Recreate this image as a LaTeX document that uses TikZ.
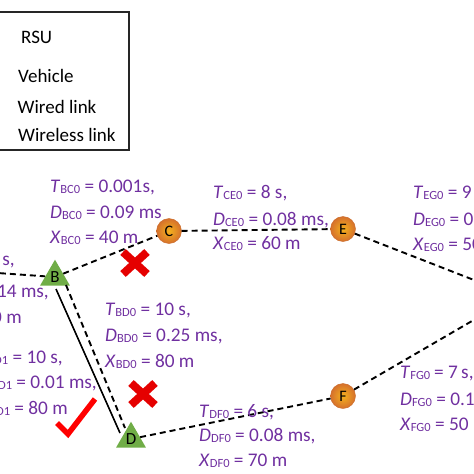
\documentclass[tikz,border=0pt]{standalone}
\usepackage{fontspec}
\setmainfont{Carlito}
\usetikzlibrary{shapes.geometric,calc}
\definecolor{lblpurple}{HTML}{7030A0}
\definecolor{vehorange}{HTML}{ED7D31}
\definecolor{rsugreen}{HTML}{70AD47}
\newcommand{\qlab}[2]{\textit{#1}\raisebox{-1.5pt}{\fontsize{12.5}{12.5}\selectfont #2}}
\tikzset{
  lbl/.style={text=lblpurple, font=\fontsize{19.3}{22}\selectfont, inner sep=0pt, anchor=base west},
  lble/.style={lbl, anchor=base east},
  legtxt/.style={font=\fontsize{19}{22}\selectfont, inner sep=0pt, anchor=base west},
  veh/.style={circle, minimum size=25pt, inner sep=0pt, shading=radial, inner color=vehorange!60!yellow, outer color=vehorange!90!black, draw=vehorange!85!black, line width=0.4pt, font=\fontsize{16}{16}\selectfont},
  rsu/.style={regular polygon, regular polygon sides=3, minimum size=34.6pt, inner sep=0pt, fill=rsugreen, font=\fontsize{17}{17}\selectfont},
  wless/.style={dash pattern=on 6pt off 4pt, line width=1.9pt, black},
  wired/.style={line width=1.6pt, black},
  xmark/.style={line width=8pt, red!90!black},
  okmark/.style={line width=5.5pt, red, line join=miter},
}
\begin{document}
\begin{tikzpicture}[x=1pt,y=-1pt]
\useasboundingbox (0,0) rectangle (474,474);
\clip (0,0) rectangle (474,474);
% legend
\draw[line width=1.2pt, black!85] (-10,12) rectangle (129,150);
\node[legtxt] (l1) at (21,43) {RSU};
\node[legtxt] (l2) at (18,82) {Vehicle};
\node[legtxt] (l3) at (17.5,113) {Wired link};
\node[legtxt] (l4) at (18,141) {Wireless link};
% nodes
\coordinate (A) at (-60,269);
\coordinate (G) at (515,296);
\node[rsu] (B) at (55,277) {B};
\node[rsu] (D) at (131,439) {D};
\node[veh] (C) at (169,231) {C};
\node[veh] (E) at (343,229) {E};
\node[veh] (F) at (343,396) {F};
% links
\draw[wless] (A) -- (B);
\draw[wless] (B) -- (C);
\draw[wless] (C) -- (E);
\draw[wless] (E) -- (G);
\draw[wless] (F) -- (G);
\draw[wless] (D) -- (F);
\draw[wired] ($(B)+(1,12)$) -- ($(D)+(-11,-6)$);
\draw[wless] ($(B)+(11,8)$) -- ($(D)+(-6,-11)$);
% marks
\coordinate (x1) at (135,263);
\coordinate (x2) at (143,394);
\draw[xmark] ($(x1)+(-12,-11)$) -- ($(x1)+(12,11)$);
\draw[xmark] ($(x1)+(-12,11)$) -- ($(x1)+(12,-11)$);
\draw[xmark] ($(x2)+(-12,-11)$) -- ($(x2)+(12,11)$);
\draw[xmark] ($(x2)+(-12,11)$) -- ($(x2)+(12,-11)$);
\coordinate (k1) at (57,423);
\coordinate (k2) at (68,434);
\coordinate (k3) at (95,399);
\draw[okmark] (k1) -- (k2) -- (k3);
% labels BC0
\node[lbl] (bc1) at (50,192) {\qlab{T}{BC0} = 0.001s,};
\node[lbl] (bc2) at (50,218) {\qlab{D}{BC0} = 0.09 ms};
\node[lbl] (bc3) at (50,243) {\qlab{X}{BC0} = 40 m};
% CE0
\node[lbl] (ce1) at (213,198) {\qlab{T}{CE0} = 8 s,};
\node[lbl] (ce2) at (213,225) {\qlab{D}{CE0} = 0.08 ms,};
\node[lbl] (ce3) at (213,249) {\qlab{X}{CE0} = 60 m};
% EG0
\node[lbl] (eg1) at (413,198) {\qlab{T}{EG0} = 9};
\node[lbl] (eg2) at (413,225) {\qlab{D}{EG0} = 0};
\node[lbl] (eg3) at (413,250) {\qlab{X}{EG0} = 50};
% BD0
\node[lbl] (bd1) at (105,315) {\qlab{T}{BD0} = 10 s,};
\node[lbl] (bd2) at (105,341) {\qlab{D}{BD0} = 0.25 ms,};
\node[lbl] (bd3) at (105,367) {\qlab{X}{BD0} = 80 m};
% DF0
\node[lbl] (df1) at (199,417) {\qlab{T}{DF0} = 6 s,};
\node[lbl] (df2) at (199,441) {\qlab{D}{DF0} = 0.08 ms,};
\node[lbl] (df3) at (199,466) {\qlab{X}{DF0} = 70 m};
% FG0
\node[lbl] (fg1) at (400,378) {\qlab{T}{FG0}\hspace{-0.5pt} = 7\hspace{-1pt} s,};
\node[lbl] (fg2) at (400,405) {\qlab{D}{FG0} = 0.1};
\node[lbl] (fg3) at (400,430) {\qlab{X}{FG0} = 50};
% left top (cut)
\node[lble] (ab1) at (15,265) {s,};
\node[lble] (ab2) at (49,297) {14 ms,};
\node[lble] (ab3) at (22,323) {0 m};
% BD1 (cut)
\node[lble] (bw1) at (63,363) {\qlab{T}{BD1} = 10 s,};
\node[lble] (bw2) at (97,388) {\qlab{D}{BD1} = 0.01 ms,};
\node[lble] (bw3) at (68,414) {\qlab{X}{BD1} = 80 m};
\end{tikzpicture}
\end{document}
